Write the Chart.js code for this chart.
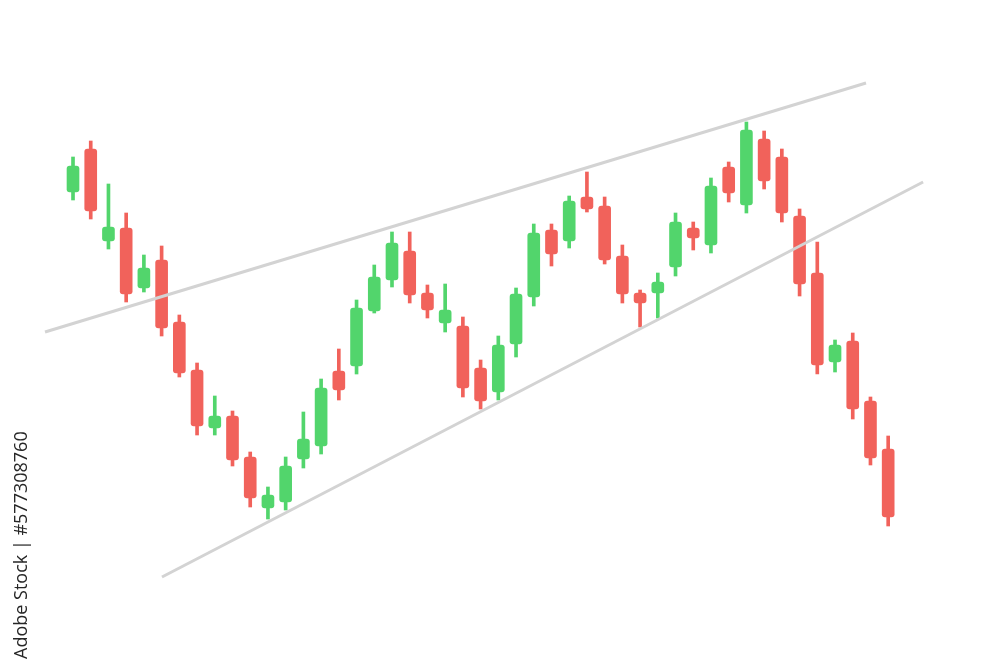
<!DOCTYPE html>
<html>

<head>
  <title>Rising wedge</title>
  <script src="https://cdn.jsdelivr.net/npm/chart.js@4.4.1/dist/chart.umd.min.js"></script>
  <style>
    body { margin: 0; background: #ffffff; }
  </style>
</head>

<body>
  <canvas id="candles" width="1000" height="667"></canvas>
  <script>

    // one candle per session (arbitrary price units)
    var days = [1, 2, 3, 4, 5, 6, 7, 8, 9, 10, 11, 12, 13, 14, 15, 16, 17, 18, 19, 20, 21, 22, 23, 24,
      25, 26, 27, 28, 29, 30, 31, 32, 33, 34, 35, 36, 37, 38, 39, 40, 41, 42, 43, 44, 45, 46, 47];
    var opens = [408, 451, 359, 372, 312, 340, 278, 230, 172, 184, 143, 92, 98, 141, 154, 229, 234, 289, 320, 349,
      307, 277, 274, 232, 208, 256, 303, 370, 359, 403, 394, 344, 307, 307, 333, 372, 355, 433, 395, 461,
      443, 384, 327, 238, 259, 199, 151];
    var highs = [443, 459, 416, 387, 345, 354, 285, 237, 204, 189, 148, 113, 143, 188, 221, 251, 300, 335, 368, 368,
      315, 316, 283, 240, 264, 312, 376, 376, 404, 428, 403, 355, 310, 327, 387, 378, 422, 438, 478, 469,
      451, 391, 358, 260, 267, 203, 164];
    var lows = [400, 381, 351, 298, 308, 264, 223, 165, 165, 134, 93, 81, 90, 132, 146, 200, 226, 287, 313, 297,
      282, 268, 203, 191, 200, 243, 294, 334, 352, 388, 336, 297, 273, 282, 324, 350, 347, 398, 387, 411,
      378, 304, 226, 228, 181, 135, 74];
    var closes = [434, 389, 373, 306, 332, 272, 227, 174, 184, 140, 102, 105, 134, 161, 212, 210, 292, 323, 357, 305,
      290, 290, 212, 199, 255, 306, 367, 346, 399, 391, 340, 306, 297, 318, 378, 362, 414, 407, 470, 419,
      387, 316, 235, 255, 191, 142, 83];

    // the two wedge lines: [start, end]
    var upperLineX = [-0.58, 45.75];
    var upperLineY = [268, 517];
    var lowerLineX = [6.02, 48.97];
    var lowerLineY = [23, 418];

    var upColor = '#52d56c';
    var downColor = '#f1625b';

    function candleColor(ctx) {
      var i = ctx.dataIndex;
      return closes[i] >= opens[i] ? upColor : downColor;
    }

    function linePoints(xs, ys) {
      return xs.map(function (x, i) { return { x: x, y: ys[i] }; });
    }

    var stampText = {
      id: 'stampText',
      afterDraw: function (chart) {
        var c = chart.ctx;
        c.save();
        c.translate(22, 659);
        c.rotate(-Math.PI / 2);
        c.fillStyle = '#262626';
        c.font = '18px "Open Sans", sans-serif';
        c.textBaseline = 'middle';
        c.textAlign = 'left';
        c.fillText('Adobe Stock | #577308760', 0, 0);
        c.restore();
      }
    };

    var chart = new Chart(document.getElementById('candles'), {
      data: {
        datasets: [
          {
            type: 'line',
            data: linePoints(upperLineX, upperLineY),
            borderColor: '#d3d3d3',
            borderWidth: 3,
            pointRadius: 0,
            order: 0
          },
          {
            type: 'line',
            data: linePoints(lowerLineX, lowerLineY),
            borderColor: '#d3d3d3',
            borderWidth: 3,
            pointRadius: 0,
            order: 0
          },
          {
            type: 'bar',
            data: days.map(function (d, i) { return { x: d, y: [opens[i], closes[i]] }; }),
            backgroundColor: candleColor,
            barThickness: 12,
            borderRadius: 3,
            borderSkipped: false,
            grouped: false,
            order: 1
          },
          {
            type: 'bar',
            data: days.map(function (d, i) { return { x: d, y: [lows[i], highs[i]] }; }),
            backgroundColor: candleColor,
            barThickness: 3,
            grouped: false,
            order: 2
          }
        ]
      },
      options: {
        responsive: false,
        animation: false,
        layout: { padding: 0 },
        plugins: {
          legend: { display: false },
          tooltip: { enabled: false }
        },
        scales: {
          x: { type: 'linear', display: false, offset: false, min: -3.12, max: 53.31 },
          y: { display: false, min: -67, max: 600 }
        }
      },
      plugins: [stampText]
    });

  </script>
</body>

</html>
